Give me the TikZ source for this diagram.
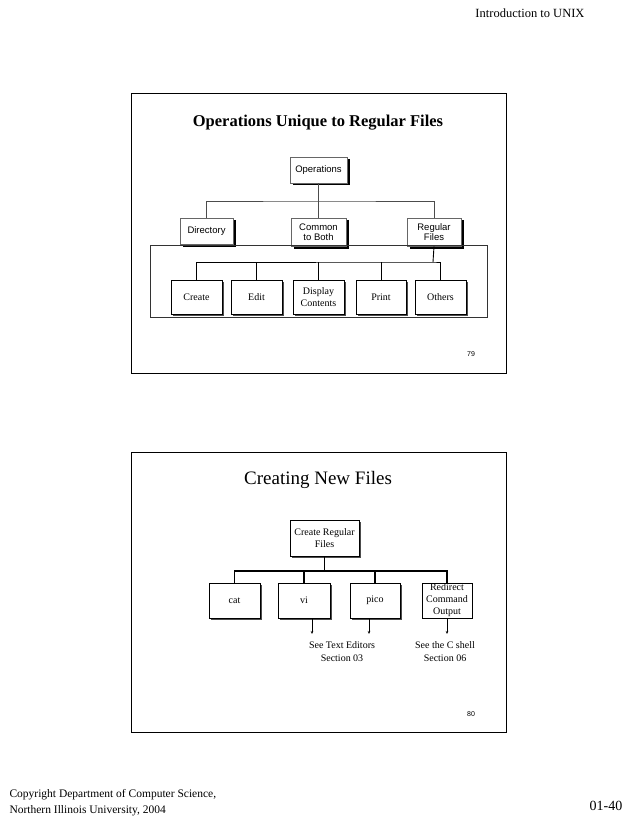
\documentclass[tikz,border=0pt]{standalone}
\usepackage{fontspec}
\usetikzlibrary{arrows.meta}
\setmainfont{Liberation Serif}
\setsansfont{Liberation Sans}
\begin{document}
\begin{tikzpicture}[x=1pt,y=-1pt,
  sbox/.style={draw=black!60,fill=white,line width=0.6pt,align=center,inner sep=0pt,
     font=\sffamily\fontsize{9.5}{10.5}\selectfont,
     preaction={fill=black,transform canvas={xshift=2.5pt,yshift=-2.5pt}}},
  rbox/.style={draw,fill=white,line width=0.7pt,align=center,inner sep=0pt,
     font=\fontsize{10}{12}\selectfont,
     preaction={fill=black!70,transform canvas={xshift=1.5pt,yshift=-1.5pt}}},
  wbox/.style={draw,fill=white,line width=0.7pt,align=center,inner sep=0pt,font=\fontsize{10}{12}\selectfont},
  ln/.style={line width=0.5pt,draw=black!70},
  tk/.style={line width=1.3pt},
  ar/.style={line width=0.6pt,-{Stealth[length=3pt,width=2.5pt]}}]
\useasboundingbox (0,0) rectangle (638,826);
\node[anchor=north east,font=\fontsize{12.5}{14}\selectfont] (hdr) at (588,5) {Introduction to UNIX};
% slide 1
\draw[line width=0.8pt] (131,93) rectangle (506,373);
\node[font=\bfseries\fontsize{16.5}{19}\selectfont] (t1) at (318,123) {Operations Unique to Regular Files};
\node[sbox,minimum width=57pt,minimum height=26pt] (ops) at (318.5,170) {Operations};
\node[sbox,minimum width=53pt,minimum height=26pt] (dir) at (206.5,231) {Directory};
\node[sbox,minimum width=55pt,minimum height=28pt] (com) at (318.5,232) {Common\\to Both};
\node[sbox,minimum width=54pt,minimum height=28pt] (reg) at (434,232) {Regular\\Files};
\draw[ln] (ops.south) -- (318.5,201) coordinate (j1);
\draw[ln] (dir.north) |- (j1) -| (reg.north);
\draw[ln] (j1) -- (com.north);
\draw[line width=0.8pt,draw=black!80] (150,245) rectangle (487,317);
\node[rbox,minimum width=51pt,minimum height=34pt] (cr) at (196.5,297) {Create};
\node[rbox,minimum width=51pt,minimum height=34pt] (ed) at (256.5,297) {Edit};
\node[rbox,minimum width=51pt,minimum height=34pt] (dc) at (318.5,297) {Display\\Contents};
\node[rbox,minimum width=50pt,minimum height=34pt] (pr) at (381,297) {Print};
\node[rbox,minimum width=51pt,minimum height=34pt] (ot) at (440.5,297) {Others};
\draw[line width=0.9pt] (reg.south) -- (433,262) coordinate (j2);
\draw[line width=0.9pt] (cr.north) |- (j2) -| (ot.north);
\foreach \n in {ed,dc,pr} \draw[line width=0.9pt] (\n.north) -- (\n.north |- j2);
\node[font=\sffamily\fontsize{7}{8}\selectfont] (p79) at (471,354) {79};
% slide 2
\draw[line width=0.8pt] (131,452) rectangle (506,732);
\node[font=\fontsize{19}{22}\selectfont] (t2) at (318,480) {Creating New Files};
\node[rbox,minimum width=69pt,minimum height=36pt] (crf) at (324.5,538) {Create Regular\\Files};
\node[rbox,minimum width=51pt,minimum height=35pt] (cat) at (234.5,600.5) {cat};
\node[rbox,minimum width=52pt,minimum height=35pt] (vi) at (304,600.5) {vi};
\node[rbox,minimum width=50pt,minimum height=35pt] (pico) at (375,600.5) {pico};
\node[wbox,minimum width=50pt,minimum height=35pt] (rd) at (447,600.5) {Redirect\\Command\\Output};
\draw[tk] (crf.south) -- (324.5,571) coordinate (j3);
\draw[tk] (cat.north) |- (j3) -| (rd.north);
\draw[tk] (vi.north) -- (vi.north |- j3);
\draw[tk] (pico.north) -- (pico.north |- j3);
\coordinate (a1) at (312,634);
\coordinate (a2) at (369,634);
\coordinate (a3) at (447,634);
\draw[ar] (312,618) -- (a1);
\draw[ar] (369,618) -- (a2);
\draw[ar] (a3 |- rd.south) -- (a3);
\node[align=center,font=\fontsize{10}{13}\selectfont] (st) at (342,652) {See Text Editors\\Section 03};
\node[align=center,font=\fontsize{10}{13}\selectfont] (sc) at (445,652) {See the C shell\\Section 06};
\node[font=\sffamily\fontsize{7}{8}\selectfont] (p80) at (471,714) {80};
% footer
\node[anchor=north west,align=left,font=\fontsize{11.5}{15.5}\selectfont] (ft) at (6,786) {Copyright Department of Computer Science,\\Northern Illinois University, 2004};
\node[font=\fontsize{14}{16}\selectfont] (pg) at (606,806) {01-40};
\end{tikzpicture}
\end{document}
